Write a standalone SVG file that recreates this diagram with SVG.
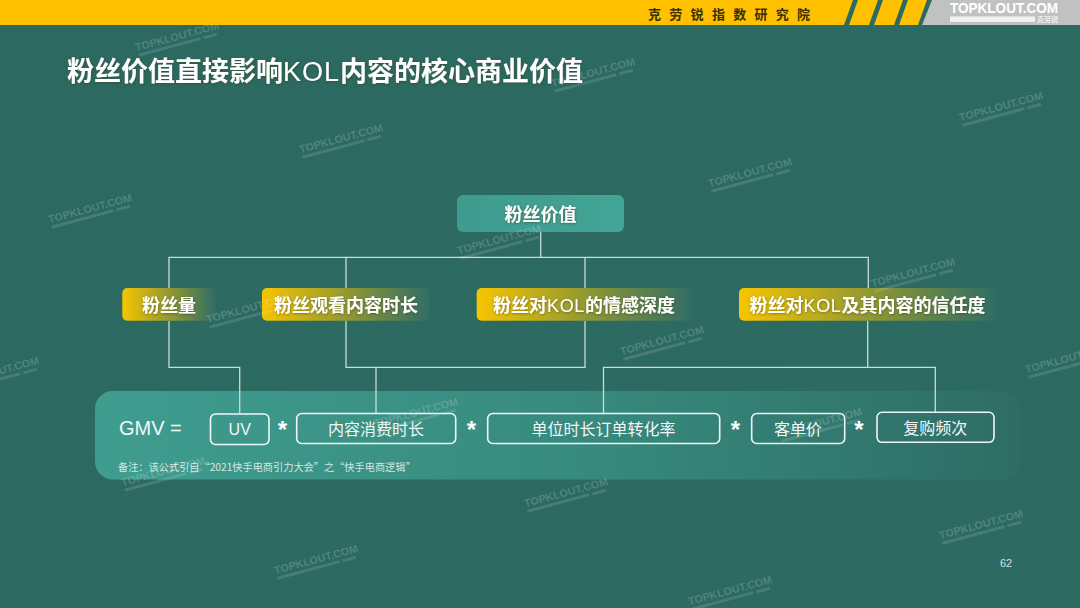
<svg xmlns="http://www.w3.org/2000/svg" width="1080" height="608" viewBox="0 0 1080 608">
<style>
text{font-family:"Noto Sans CJK SC","Noto Sans",sans-serif;fill:#fff}
.lat{font-family:"Liberation Sans","Noto Sans CJK SC",sans-serif}
.thin{font-family:"Liberation Sans",sans-serif;font-weight:400}
.hd{font-size:18px;font-weight:700;text-anchor:middle;filter:url(#sh)}
.bx{fill:none;stroke:#fff;stroke-width:1.6;stroke-opacity:.92}
.bt{font-size:16px;text-anchor:middle;fill:#f2f7f6}
.st{font-family:"Liberation Sans",sans-serif;font-size:24px;font-weight:700;text-anchor:middle}
.cn{fill:none;stroke:#c9dcd8;stroke-width:1.3}
.wt{font-family:"Liberation Sans",sans-serif;font-size:10.800px;font-weight:700;fill:#fff;fill-opacity:.19;text-anchor:middle}
.wb{fill:#fff;fill-opacity:.13}
.band{fill:#ffc000}
</style>
<defs>
<linearGradient id="bg" x1="0" y1="0" x2="1" y2="1"><stop offset="0" stop-color="#2b6961"/><stop offset="1" stop-color="#2c6a62"/></linearGradient>
<linearGradient id="pn" x1="0" y1="0" x2="1" y2="0"><stop offset="0" stop-color="#3f9d8f"/><stop offset=".55" stop-color="#37897d"/><stop offset="1" stop-color="#2e6d65"/></linearGradient>
<linearGradient id="top" x1="0" y1="0" x2="1" y2="0"><stop offset="0" stop-color="#3d9c8e"/><stop offset="1" stop-color="#43a597"/></linearGradient>
<linearGradient id="yl" x1="0" y1="0" x2="1" y2="0"><stop offset="0" stop-color="#f7c500"/><stop offset="1" stop-color="#2f6d65"/></linearGradient>
<filter id="sh" x="-10%" y="-30%" width="120%" height="160%"><feDropShadow dx="0.5" dy="0.8" stdDeviation="0.8" flood-color="#3a3a00" flood-opacity=".55"/></filter>
</defs>
<rect width="1080" height="608" fill="url(#bg)"/>
<g id="header">
<polygon class="band" points="0,0 853,0 844,25 0,25"/>
<polygon class="band" points="858,0 878,0 869,25 849,25"/>
<polygon class="band" points="883,0 903,0 894,25 874,25"/>
<polygon class="band" points="908,0 927,0 918,25 899,25"/>
<polygon fill="#c0c2c1" points="932,0 1080,0 1080,25 922,25"/>
<text x="648" y="18.500" font-size="13px" font-weight="700" letter-spacing="8.300" style="fill:#3a3000">克劳锐指数研究院</text>
<text class="lat" x="1004" y="13" font-size="15.500px" text-anchor="middle" textLength="108" lengthAdjust="spacingAndGlyphs" font-weight="700">TOPKLOUT.COM</text>
<rect x="950" y="16.500" width="85" height="5.500" fill="#f1f1f1"/>
<text x="1047.500" y="22" font-size="7px" text-anchor="middle">克劳锐</text>
</g>
<text id="title" x="67" y="81" font-size="27px" font-weight="700" filter="url(#sh)">粉丝价值直接影响<tspan class="thin" letter-spacing="1">KOL</tspan>内容的核心商业价值</text>
<g id="formula-panel"><rect x="95" y="391" width="925" height="88.500" rx="18" fill="url(#pn)"/></g>
<g id="connectors">
<path class="cn" d="M540.700 232V257.300M169 288V257.300H868.300V288M346 257.300V288M585 257.300V288"/>
<path class="cn" d="M169 321V367.300H239.700V413"/>
<path class="cn" d="M346 321V367.300H585V321M376 367.300V413"/>
<path class="cn" d="M867.700 321V367.300M603.500 413V367.300H935.300V412"/>
</g>
<g id="node-root"><rect x="457" y="195" width="167" height="37" rx="6" fill="url(#top)"/><text class="hd" x="540.500" y="221">粉丝价值</text></g>
<g id="node-fans"><rect x="122.300" y="288" width="93.400" height="32.700" rx="5" fill="url(#yl)"/><text class="hd" x="169" y="311.500">粉丝量</text></g>
<g id="node-watch"><rect x="262" y="288" width="168" height="32.700" rx="5" fill="url(#yl)"/><text class="hd" x="346" y="311.500">粉丝观看内容时长</text></g>
<g id="node-emotion"><rect x="476.700" y="288" width="216" height="32.700" rx="5" fill="url(#yl)"/><text class="hd" x="584" y="311.500">粉丝对<tspan class="thin" letter-spacing="0.600">KOL</tspan>的情感深度</text></g>
<g id="node-trust"><rect x="739" y="288" width="257" height="32.700" rx="5" fill="url(#yl)"/><text class="hd" x="867.500" y="311.500">粉丝对<tspan class="thin" letter-spacing="0.600">KOL</tspan>及其内容的信任度</text></g>
<text class="lat" x="119" y="435" font-size="20px" style="fill:#f2f7f6">GMV =</text>
<g id="node-uv"><rect class="bx" x="210.500" y="414" width="58.500" height="30.500" rx="5"/><text class="bt lat" x="239.700" y="435">UV</text></g>
<text class="st" x="282.500" y="438">*</text>
<g id="node-duration"><rect class="bx" x="296.700" y="413.500" width="159" height="30" rx="5"/><text class="bt" x="376" y="434.500">内容消费时长</text></g>
<text class="st" x="471.500" y="438">*</text>
<g id="node-conversion"><rect class="bx" x="487.700" y="413.500" width="232" height="30" rx="5"/><text class="bt" x="603.500" y="434.500">单位时长订单转化率</text></g>
<text class="st" x="735.500" y="438">*</text>
<g id="node-price"><rect class="bx" x="751.700" y="413.500" width="93" height="30" rx="5"/><text class="bt" x="798" y="434.500">客单价</text></g>
<text class="st" x="858.800" y="438">*</text>
<g id="node-repeat"><rect class="bx" x="877" y="412.300" width="117" height="30" rx="5"/><text class="bt" x="935.300" y="433.500">复购频次</text></g>
<text x="118" y="471" font-size="10.200px" style="fill:#d5e6e2">备注：该公式引自“2021快手电商引力大会”之“快手电商逻辑”</text>
<text class="lat" x="1006" y="567" font-size="11px" text-anchor="middle" style="fill:#d5e2df">62</text>
<g id="watermarks">
<g transform="translate(178,40) rotate(-15)"><text class="wt" y="0">TOPKLOUT.COM</text><rect class="wb" x="-42" y="3" width="64" height="3"/><rect class="wb" x="25" y="3" width="14" height="3"/></g>
<g transform="translate(594,76) rotate(-15)"><text class="wt" y="0">TOPKLOUT.COM</text><rect class="wb" x="-42" y="3" width="64" height="3"/><rect class="wb" x="25" y="3" width="14" height="3"/></g>
<g transform="translate(1002,110) rotate(-15)"><text class="wt" y="0">TOPKLOUT.COM</text><rect class="wb" x="-42" y="3" width="64" height="3"/><rect class="wb" x="25" y="3" width="14" height="3"/></g>
<g transform="translate(342,142) rotate(-15)"><text class="wt" y="0">TOPKLOUT.COM</text><rect class="wb" x="-42" y="3" width="64" height="3"/><rect class="wb" x="25" y="3" width="14" height="3"/></g>
<g transform="translate(751,176) rotate(-15)"><text class="wt" y="0">TOPKLOUT.COM</text><rect class="wb" x="-42" y="3" width="64" height="3"/><rect class="wb" x="25" y="3" width="14" height="3"/></g>
<g transform="translate(91,212) rotate(-15)"><text class="wt" y="0">TOPKLOUT.COM</text><rect class="wb" x="-42" y="3" width="64" height="3"/><rect class="wb" x="25" y="3" width="14" height="3"/></g>
<g transform="translate(500,243) rotate(-15)"><text class="wt" y="0">TOPKLOUT.COM</text><rect class="wb" x="-42" y="3" width="64" height="3"/><rect class="wb" x="25" y="3" width="14" height="3"/></g>
<g transform="translate(914,276) rotate(-15)"><text class="wt" y="0">TOPKLOUT.COM</text><rect class="wb" x="-42" y="3" width="64" height="3"/><rect class="wb" x="25" y="3" width="14" height="3"/></g>
<g transform="translate(249,312) rotate(-15)"><text class="wt" y="0">TOPKLOUT.COM</text><rect class="wb" x="-42" y="3" width="64" height="3"/><rect class="wb" x="25" y="3" width="14" height="3"/></g>
<g transform="translate(663,344) rotate(-15)"><text class="wt" y="0">TOPKLOUT.COM</text><rect class="wb" x="-42" y="3" width="64" height="3"/><rect class="wb" x="25" y="3" width="14" height="3"/></g>
<g transform="translate(1068,362) rotate(-15)"><text class="wt" y="0">TOPKLOUT.COM</text><rect class="wb" x="-42" y="3" width="64" height="3"/><rect class="wb" x="25" y="3" width="14" height="3"/></g>
<g transform="translate(-2,375) rotate(-15)"><text class="wt" y="0">TOPKLOUT.COM</text><rect class="wb" x="-42" y="3" width="64" height="3"/><rect class="wb" x="25" y="3" width="14" height="3"/></g>
<g transform="translate(417,416) rotate(-15)"><text class="wt" y="0">TOPKLOUT.COM</text><rect class="wb" x="-42" y="3" width="64" height="3"/><rect class="wb" x="25" y="3" width="14" height="3"/></g>
<g transform="translate(821,426) rotate(-15)"><text class="wt" y="0">TOPKLOUT.COM</text><rect class="wb" x="-42" y="3" width="64" height="3"/><rect class="wb" x="25" y="3" width="14" height="3"/></g>
<g transform="translate(164,475) rotate(-15)"><text class="wt" y="0">TOPKLOUT.COM</text><rect class="wb" x="-42" y="3" width="64" height="3"/><rect class="wb" x="25" y="3" width="14" height="3"/></g>
<g transform="translate(567,496) rotate(-15)"><text class="wt" y="0">TOPKLOUT.COM</text><rect class="wb" x="-42" y="3" width="64" height="3"/><rect class="wb" x="25" y="3" width="14" height="3"/></g>
<g transform="translate(982,528) rotate(-15)"><text class="wt" y="0">TOPKLOUT.COM</text><rect class="wb" x="-42" y="3" width="64" height="3"/><rect class="wb" x="25" y="3" width="14" height="3"/></g>
<g transform="translate(317,563) rotate(-15)"><text class="wt" y="0">TOPKLOUT.COM</text><rect class="wb" x="-42" y="3" width="64" height="3"/><rect class="wb" x="25" y="3" width="14" height="3"/></g>
<g transform="translate(731,594) rotate(-15)"><text class="wt" y="0">TOPKLOUT.COM</text><rect class="wb" x="-42" y="3" width="64" height="3"/><rect class="wb" x="25" y="3" width="14" height="3"/></g>
</g>
</svg>
